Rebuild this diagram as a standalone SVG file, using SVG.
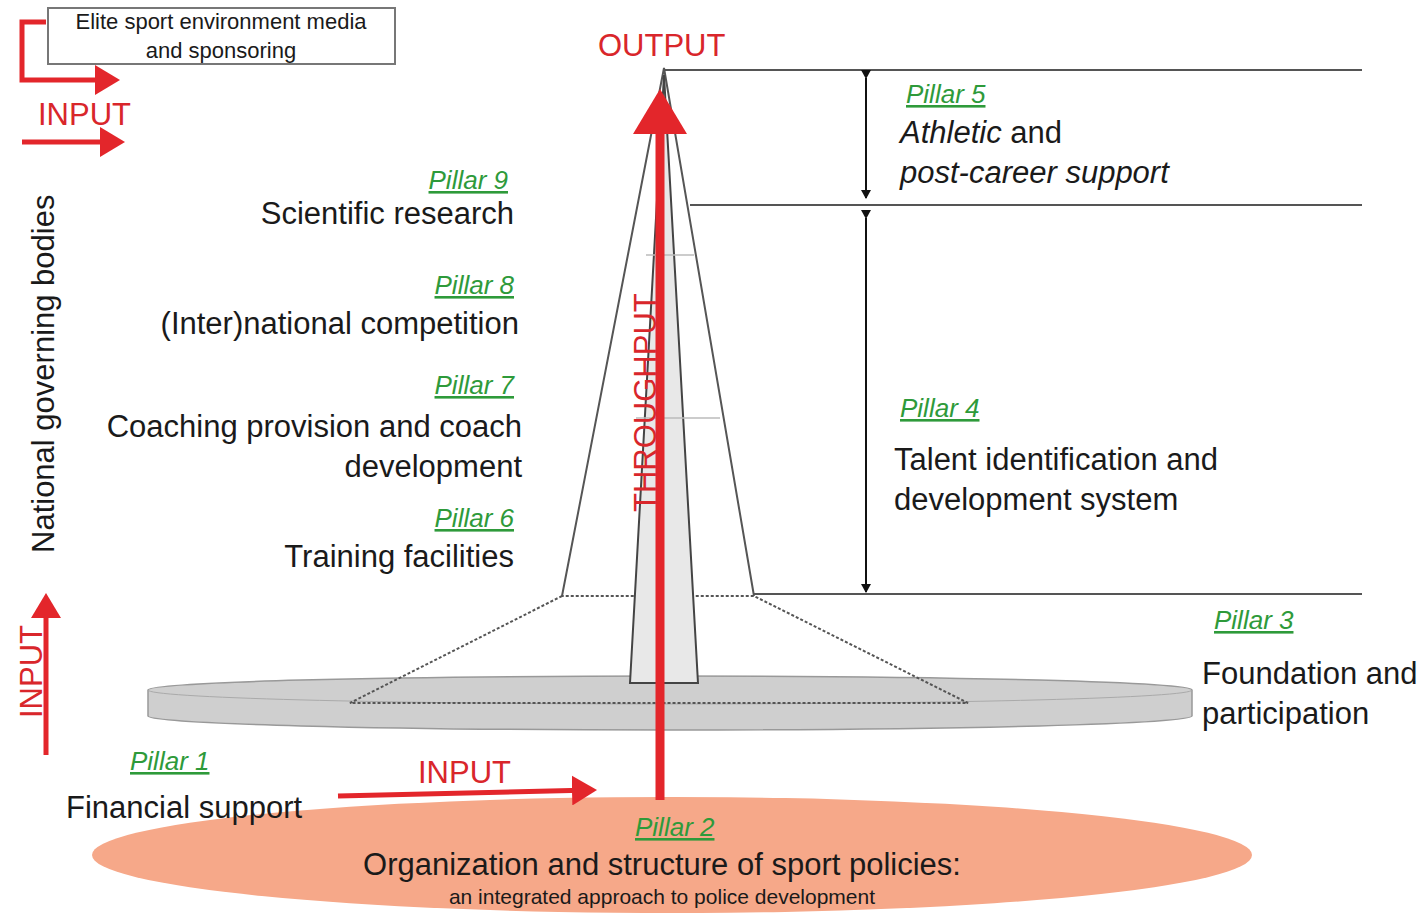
<svg xmlns="http://www.w3.org/2000/svg" width="1418" height="920" viewBox="0 0 1418 920">
<style>
text{font-family:"Liberation Sans",Arial,sans-serif}
.p{fill:#2e9a3a;font-style:italic;font-size:26px;text-decoration:underline}
.t{fill:#1a1a1a;font-size:31px}
.r{fill:#d9262b;font-size:31px}
.ln{stroke:#555;stroke-width:2;fill:none}
.dot{stroke:#555;stroke-width:2;stroke-dasharray:3 2;fill:none}
.red{stroke:#e3262b;stroke-width:5;fill:none}
</style>
<defs>
<marker id="ra" markerWidth="6" markerHeight="6" refX="4" refY="3" orient="auto" markerUnits="strokeWidth"><path d="M0,0L5,3L0,6Z" fill="#e3262b"/></marker>
<marker id="ba" markerWidth="10" markerHeight="10" refX="8" refY="5" orient="auto" markerUnits="userSpaceOnUse"><path d="M0,0L9,5L0,10Z" fill="#111"/></marker>
</defs>
<rect width="1418" height="920" fill="#fff"/>
<g id="base">
<ellipse cx="672" cy="855" rx="580" ry="58" fill="#f6a889"/>
</g>
<g id="disk">
<path d="M148,690 A522,14 0 0 1 1192,690 L1192,716 A522,14 0 0 1 148,716 Z" fill="#cfcfcf" stroke="#999" stroke-width="1.5"/>
<path d="M148,690 A522,14 0 0 0 1192,690" fill="none" stroke="#aaa" stroke-width="1"/>
</g>
<g id="pyramid">
<path class="dot" d="M562,596 L350,703 L968,703 L754,596 Z"/>
<path class="ln" d="M562,596 L664,68 L754,596"/>
<path d="M664,75 L630,683 L698,683 Z" fill="#e8e8e8" stroke="#444" stroke-width="2"/>
<line x1="646" y1="255" x2="694" y2="255" stroke="#bbb" stroke-width="1.5"/>
<line x1="636" y1="418" x2="720" y2="418" stroke="#bbb" stroke-width="1.5"/>
</g>
<g id="connectors">
<line x1="664" y1="70" x2="1362" y2="70" class="ln"/>
<line x1="690" y1="205" x2="1362" y2="205" class="ln"/>
<line x1="754" y1="594" x2="1362" y2="594" class="ln"/>
<line x1="866" y1="78" x2="866" y2="198" stroke="#111" stroke-width="2" marker-end="url(#ba)" marker-start="url(#ba)"/>
<line x1="866" y1="218" x2="866" y2="592" stroke="#111" stroke-width="2" marker-end="url(#ba)" marker-start="url(#ba)"/>
<line x1="660" y1="800" x2="660" y2="98" stroke="#e3262b" stroke-width="9" marker-end="url(#ra)"/>
<path class="red" d="M46,22 L22,22 L22,80 L115,80" marker-end="url(#ra)"/>
<line class="red" x1="22" y1="142" x2="120" y2="142" marker-end="url(#ra)"/>
<line class="red" x1="46" y1="755" x2="46" y2="598" marker-end="url(#ra)"/>
<line class="red" x1="338" y1="796" x2="592" y2="790" marker-end="url(#ra)"/>
</g>
<g id="elite">
<rect x="48" y="8" width="347" height="56" fill="#fff" stroke="#777" stroke-width="2"/>
<text x="221" y="29" font-size="22" text-anchor="middle" fill="#1a1a1a">Elite sport environment media</text>
<text x="221" y="58" font-size="22" text-anchor="middle" fill="#1a1a1a">and sponsoring</text>
</g>
<g id="labels">
<text class="r" x="38" y="125">INPUT</text>
<text class="r" x="598" y="56">OUTPUT</text>
<text class="r" x="418" y="783">INPUT</text>
<text class="r" transform="translate(42,718) rotate(-90)">INPUT</text>
<text class="t" transform="translate(54,553) rotate(-90)">National governing bodies</text>
<text class="r" transform="translate(656,512) rotate(-90)" font-size="26">THROUGHPUT</text>
</g>
<g id="pillar1"><text class="p" x="130" y="770">Pillar 1</text><text class="t" x="66" y="818">Financial support</text></g>
<g id="pillar2"><text class="p" x="635" y="836">Pillar 2</text>
<text class="t" x="662" y="875" text-anchor="middle">Organization and structure of sport policies:</text>
<text x="662" y="904" text-anchor="middle" font-size="21" fill="#1a1a1a">an integrated approach to police development</text></g>
<g id="pillar3"><text class="p" x="1214" y="629">Pillar 3</text><text class="t" x="1202" y="684">Foundation and</text><text class="t" x="1202" y="724">participation</text></g>
<g id="pillar4"><text class="p" x="900" y="417">Pillar 4</text><text class="t" x="894" y="470">Talent identification and</text><text class="t" x="894" y="510">development system</text></g>
<g id="pillar5"><text class="p" x="906" y="103">Pillar 5</text><text class="t" x="900" y="143"><tspan font-style="italic">Athletic</tspan> and</text><text class="t" x="900" y="183" font-style="italic">post-career support</text></g>
<g id="pillar6"><text class="p" x="514" y="527" text-anchor="end">Pillar 6</text><text class="t" x="514" y="567" text-anchor="end">Training facilities</text></g>
<g id="pillar7"><text class="p" x="514" y="394" text-anchor="end">Pillar 7</text><text class="t" x="522" y="437" text-anchor="end">Coaching provision and coach</text><text class="t" x="522" y="477" text-anchor="end">development</text></g>
<g id="pillar8"><text class="p" x="514" y="294" text-anchor="end">Pillar 8</text><text class="t" x="519" y="334" text-anchor="end">(Inter)national competition</text></g>
<g id="pillar9"><text class="p" x="508" y="189" text-anchor="end">Pillar 9</text><text class="t" x="514" y="224" text-anchor="end">Scientific research</text></g>
</svg>
